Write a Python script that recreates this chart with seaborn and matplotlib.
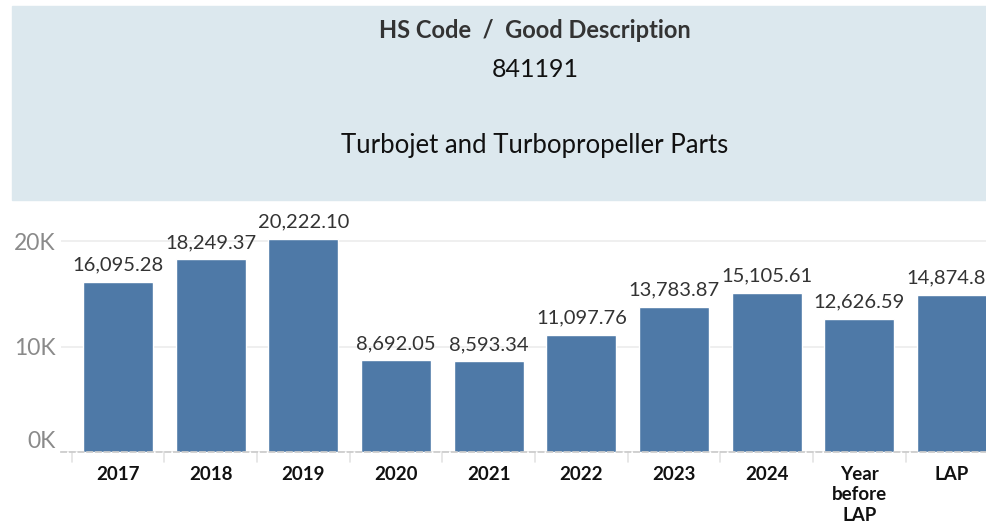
import matplotlib
matplotlib.use("Agg")
import matplotlib.pyplot as plt
from matplotlib.patches import Rectangle
from matplotlib.ticker import FuncFormatter
import seaborn as sns
import pandas as pd

# ---- data ----
categories = ["2017", "2018", "2019", "2020", "2021", "2022", "2023", "2024",
              "Year\nbefore\nLAP", "LAP"]
values = [16095.28, 18249.37, 20222.10, 8692.05, 8593.34, 11097.76,
          13783.87, 15105.61, 12626.59, 14874.87]
header_title = "HS Code  /  Good Description"
hs_code = "841191"
good_desc = "Turbojet and Turbopropeller Parts"

df = pd.DataFrame({"period": categories, "value": values})

sns.set_theme(style="white")
plt.rcParams["font.family"] = ["Lato", "DejaVu Sans"]

W, H = 987, 529
fig = plt.figure(figsize=(W / 100, H / 100), dpi=100)

# header panel
fig.patches.append(Rectangle((12 / W, 1 - 200 / H), (W - 12) / W, 194 / H,
                             transform=fig.transFigure, color="#dce8ee", zorder=0))
fig.text(535 / W, 1 - 30 / H, header_title, ha="center", va="center",
         fontsize=17, fontweight="bold", color="#333333")
fig.text(535 / W, 1 - 70 / H, hs_code, ha="center", va="center",
         fontsize=18, color="#111111")
fig.text(535 / W, 1 - 145 / H, good_desc, ha="center", va="center",
         fontsize=18.5, color="#111111")

# chart axes: left 61px, right 987px, bottom at zero line y=452, top y=205
CAT = 92.67  # px per category
ax = fig.add_axes([61 / W, 1 - 452 / H, (987 - 61) / W, (452 - 205) / H])
sns.barplot(data=df, x="period", y="value", color="#4e79a7", width=70 / CAT,
            saturation=1, ax=ax)

ax.set_xlim(-(118 - 61) / CAT, (987 - 118) / CAT)
ax.set_ylim(0, (452 - 205) / 10.55 * 1000)
ax.set_yticks([0, 10000, 20000])
ax.yaxis.set_major_formatter(FuncFormatter(lambda v, p: f"{int(v / 1000)}K"))
ax.grid(axis="y", color="#ececec", linewidth=1.2)
ax.set_axisbelow(True)
for s in ["top", "right", "left"]:
    ax.spines[s].set_visible(False)
ax.spines["bottom"].set_color("#cccccc")
ax.spines["bottom"].set_linestyle((0, (3, 2)))
ax.set_xlabel("")
ax.set_ylabel("")
ax.tick_params(axis="y", labelsize=16.5, labelcolor="#8a8a8a", length=0, pad=4)
ax.tick_params(axis="x", labelsize=13.5, labelcolor="#111111", length=0, pad=10)
for lab in ax.get_xticklabels():
    lab.set_fontweight("bold")
    lab.set_va("top")
    lab.set_linespacing(1.25)
# zero label sits above the baseline, the others just under their grid line
ylabs = ax.get_yticklabels()
ylabs[0].set_va("bottom")
for lab in ylabs[1:]:
    lab.set_va("center_baseline")

# category separators below baseline
for b in range(len(categories) + 1):
    ax.plot([b - 0.5, b - 0.5], [0, -0.04], transform=ax.get_xaxis_transform(),
            color="#e3e3e3", linewidth=1.2, clip_on=False)

ax.bar_label(ax.containers[0], labels=[f"{v:,.2f}" for v in values],
             padding=6, fontsize=14.5, color="#333333")

fig.savefig("out.png", dpi=100)
